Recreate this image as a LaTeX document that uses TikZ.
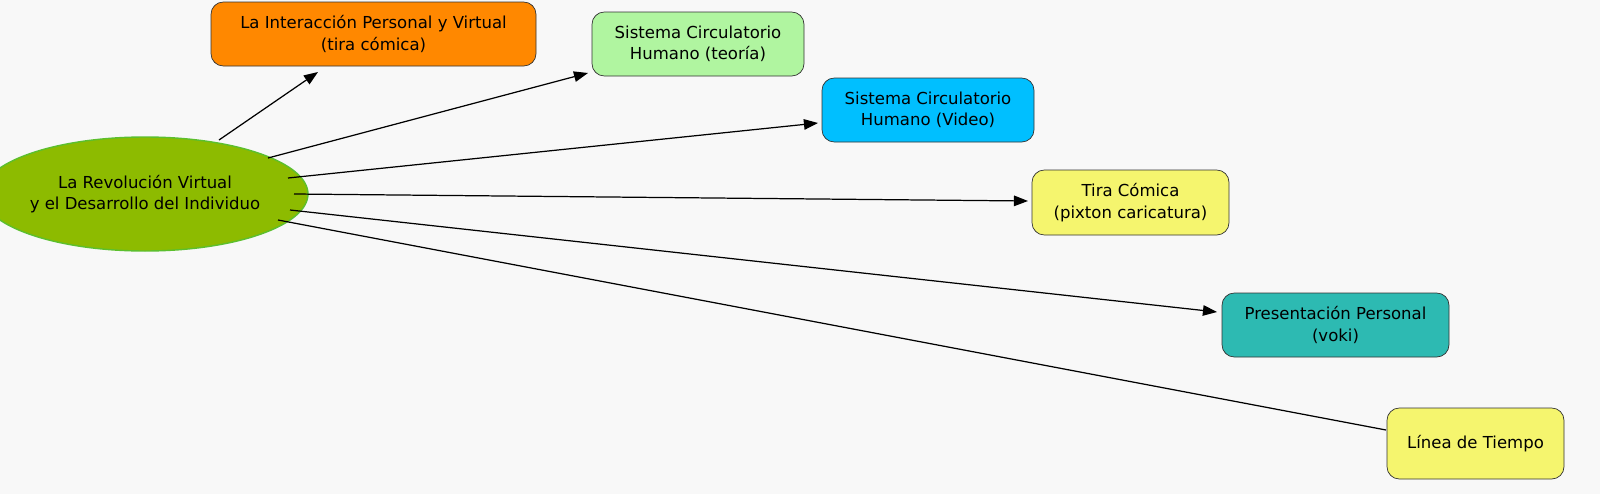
\documentclass[tikz,border=0pt]{standalone}
\usepackage{fontspec}
\setmainfont{DejaVu Sans}
\usetikzlibrary{arrows.meta,shapes.geometric}
\definecolor{bg}{HTML}{F8F8F8}
\definecolor{cO}{HTML}{FF8800}
\definecolor{cLG}{HTML}{B0F5A0}
\definecolor{cB}{HTML}{00BFFF}
\definecolor{cY}{HTML}{F5F56E}
\definecolor{cT}{HTML}{2DBAB2}
\definecolor{cE}{HTML}{8DBB00}
\definecolor{cEb}{HTML}{5CBF2E}
\tikzset{
  box/.style={draw=black!80, rounded corners=7pt, align=center, font=\fontsize{9.4}{12.2}\selectfont, inner sep=0pt},
  link/.style={-{Triangle[length=8pt,width=6pt]}, line width=0.7pt},
  plain/.style={line width=0.7pt}
}
\begin{document}
\begin{tikzpicture}[x=0.02cm,y=-0.02cm]
\fill[bg] (0,0) rectangle (1600,494);
\useasboundingbox (0,0) rectangle (1600,494);
\node[ellipse, draw=cEb, fill=cE, line width=0.8pt, minimum width=290*0.02cm, minimum height=114*0.02cm, align=center, font=\fontsize{9.4}{12.2}\selectfont, inner sep=0pt] (root) at (145,194) {La Revolución Virtual\\y el Desarrollo del Individuo};
\node[box, fill=cO, minimum width=325*0.02cm, minimum height=64*0.02cm] (a) at (373.5,34) {La Interacción Personal y Virtual\\(tira cómica)};
\node[box, fill=cLG, minimum width=212*0.02cm, minimum height=64*0.02cm] (b) at (698,44) {Sistema Circulatorio\\Humano (teoría)};
\node[box, fill=cB, minimum width=212*0.02cm, minimum height=64*0.02cm] (c) at (928,110) {Sistema Circulatorio\\Humano (Video)};
\node[box, fill=cY, minimum width=197*0.02cm, minimum height=65*0.02cm] (d) at (1130.5,202.5) {Tira Cómica\\(pixton caricatura)};
\node[box, fill=cT, minimum width=227*0.02cm, minimum height=64*0.02cm] (e) at (1335.5,325) {Presentación Personal\\(voki)};
\node[box, fill=cY, minimum width=177*0.02cm, minimum height=71*0.02cm] (f) at (1475.5,443.5) {Línea de Tiempo};
\coordinate (s1) at (219,140); \coordinate (t1) at (318,72);
\coordinate (s2) at (268,158); \coordinate (t2) at (588,73);
\coordinate (s3) at (288,178); \coordinate (t3) at (818,123);
\coordinate (s4) at (294,194); \coordinate (t4) at (1028,201);
\coordinate (s5) at (290,210); \coordinate (t5) at (1217,312);
\coordinate (s6) at (278,220); \coordinate (t6) at (1386,430);
\draw[link] (s1) -- (t1);
\draw[link] (s2) -- (t2);
\draw[link] (s3) -- (t3);
\draw[link] (s4) -- (t4);
\draw[link] (s5) -- (t5);
\draw[plain] (s6) -- (t6);
\end{tikzpicture}
\end{document}
